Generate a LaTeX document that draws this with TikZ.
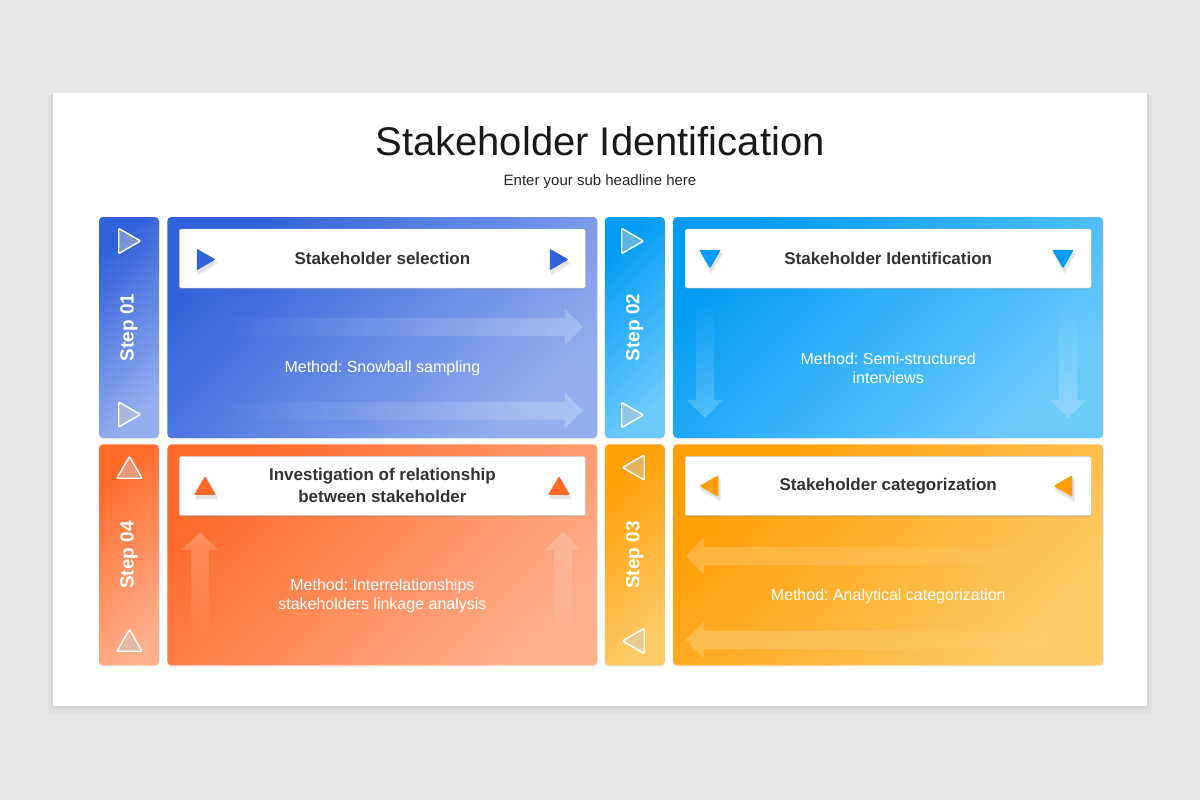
\documentclass[tikz,border=0pt]{standalone}
\usepackage{fontspec}
\setmainfont{Liberation Sans}
\frenchspacing
\usetikzlibrary{positioning,fadings,shadows}
\definecolor{slidegray}{HTML}{E9E7E9}
\definecolor{blueA}{HTML}{3263DA}
\definecolor{blueB}{HTML}{95AEEF}
\definecolor{cyanA}{HTML}{039CF4}
\definecolor{cyanB}{HTML}{6DCAFD}
\definecolor{orangeA}{HTML}{FF6A2B}
\definecolor{orangeB}{HTML}{FFAE8A}
\definecolor{amberA}{HTML}{FF9E05}
\definecolor{amberB}{HTML}{FFCA66}
\definecolor{headtext}{HTML}{333333}
\tikzset{
  tile/.style 2 args={rounded corners=4pt, top color=#1, bottom color=#2, shading angle=45,
    drop shadow={shadow xshift=0pt, shadow yshift=-1.5pt, opacity=0.12}},
  steptab/.style={minimum width=60pt, minimum height=221pt, inner sep=0pt},
  card/.style={minimum width=430pt, minimum height=221pt, inner sep=0pt},
  headbox/.style={fill=white, draw=black!22, rounded corners=2pt, minimum width=406pt,
    minimum height=59pt, align=center, text=headtext, font=\fontsize{17}{22}\selectfont\bfseries,
    drop shadow={shadow xshift=0pt, shadow yshift=-2pt, opacity=0.15}},
  steplabel/.style={text=white, font=\fontsize{19}{22}\selectfont\bfseries, rotate=90},
  method/.style={text=white, align=center, font=\fontsize{16}{19}\selectfont},
  marker/.pic={\path[pic actions, rounded corners=1pt] (0:1) -- (120:1) -- (240:1) -- cycle;},
  flow/.pic={\path[pic actions] (0,0) -- (-18,-18) -- (-18,-9) -- (-#1,-9) -- (-#1,9)
    -- (-18,9) -- (-18,18) -- cycle;},
  headmark/.style={fill=#1, scale=12.5},
  markshadow/.style={fill=black, opacity=0.06, scale=#1},
  stripmark/.style={draw=white, line width=1.4pt, fill=white!80!black, fill opacity=0.45, scale=14.5},
  flowarrow/.style={fill=white, fill opacity=0.22, path fading=#1}
}
\begin{document}
\begin{tikzpicture}[x=1pt, y=-1pt]
  \useasboundingbox (0,0) rectangle (1200,800);
  \fill[slidegray] (0,0) rectangle (1200,800);
  % slide and its shadow
  \foreach \s in {1,...,7}
    \fill[black, opacity=0.012] (53-\s*0.8,93+\s*0.4) rectangle (1147+\s*0.8,706+\s*1.1);
  \fill[white] (53,93) rectangle (1147,706);

  \node[font=\fontsize{40}{48}\selectfont, text=black!90] (title) at (600,141) {Stakeholder Identification};
  \node[font=\fontsize{15}{18}\selectfont, text=black!85] (subtitle) at (600,182) {Enter your sub headline here};

  % tabs and cards
  \node[steptab, tile={blueA}{blueB}]     (s1) at (129,327.5) {};
  \node[card,    tile={blueA}{blueB},   right=8pt of s1] (p1) {};
  \node[steptab, tile={cyanA}{cyanB},   right=7pt of p1] (s2) {};
  \node[card,    tile={cyanA}{cyanB},   right=8pt of s2] (p2) {};
  \node[steptab, tile={orangeA}{orangeB}, below=6pt of s1] (s4) {};
  \node[card,    tile={orangeA}{orangeB}, right=8pt of s4] (p4) {};
  \node[steptab, tile={amberA}{amberB}, below=6pt of s2] (s3) {};
  \node[card,    tile={amberA}{amberB}, right=8pt of s3] (p3) {};

  % faint flow arrows
  \pic[flowarrow=west] at (583,327) {flow=368};
  \pic[flowarrow=west] at (583,410.5) {flow=368};
  \pic[flowarrow=north, rotate=-90] at (705,418) {flow=118};
  \pic[flowarrow=north, rotate=-90] at (1068,418) {flow=118};
  \pic[flowarrow=south, rotate=90] at (200,532) {flow=108};
  \pic[flowarrow=south, rotate=90] at (563,532) {flow=108};
  \pic[flowarrow=east, rotate=180] at (686,556) {flow=374};
  \pic[flowarrow=east, rotate=180] at (686,640) {flow=374};

  \node[steplabel] (t1) at (s1) {Step 01};
  \node[steplabel] (t2) at (s2) {Step 02};
  \node[steplabel] (t3) at (s3) {Step 03};
  \node[steplabel] (t4) at (s4) {Step 04};

  \node[headbox, below=12pt of p1.north] (h1) {Stakeholder selection};
  \node[headbox, below=12pt of p2.north] (h2) {Stakeholder Identification};
  \node[headbox, below=12pt of p3.north] (h3) {Stakeholder categorization};
  \node[headbox, below=12pt of p4.north] (h4) {Investigation of relationship\\between stakeholder};

  \node[method] (m1) at ([yshift=-41pt]p1.center) {Method: Snowball sampling};
  \node[method] (m2) at ([yshift=-41pt]p2.center) {Method: Semi-structured\\interviews};
  \node[method] (m3) at ([yshift=-41pt]p3.center) {Method: Analytical categorization};
  \node[method] (m4) at ([yshift=-41pt]p4.center) {Method: Interrelationships\\stakeholders linkage analysis};

  % markers in the header boxes
  \foreach \x/\y/\a/\c in {203/259.5/0/blueA, 556/259.5/0/blueA,
      710/256/-90/cyanA, 1063/256/-90/cyanA, 712/486/180/amberA, 1066/486/180/amberA,
      205/488.5/90/orangeA, 559/488.5/90/orangeA} {
    \pic[markshadow=14.5, rotate=\a] at (\x+1.5,\y+4) {marker};
    \pic[markshadow=13, rotate=\a] at (\x+1.5,\y+3) {marker};
    \pic[headmark=\c, rotate=\a] at (\x,\y) {marker};
  }

  % markers on the tabs
  \pic[stripmark] at (126,241) {marker};
  \pic[stripmark] at (126,414.5) {marker};
  \pic[stripmark] at (629,241) {marker};
  \pic[stripmark] at (629,415) {marker};
  \pic[stripmark, rotate=180] at (637,467.5) {marker};
  \pic[stripmark, rotate=180] at (637,641) {marker};
  \pic[stripmark, rotate=90] at (129.5,471) {marker};
  \pic[stripmark, rotate=90] at (129.5,644) {marker};
\end{tikzpicture}
\end{document}
